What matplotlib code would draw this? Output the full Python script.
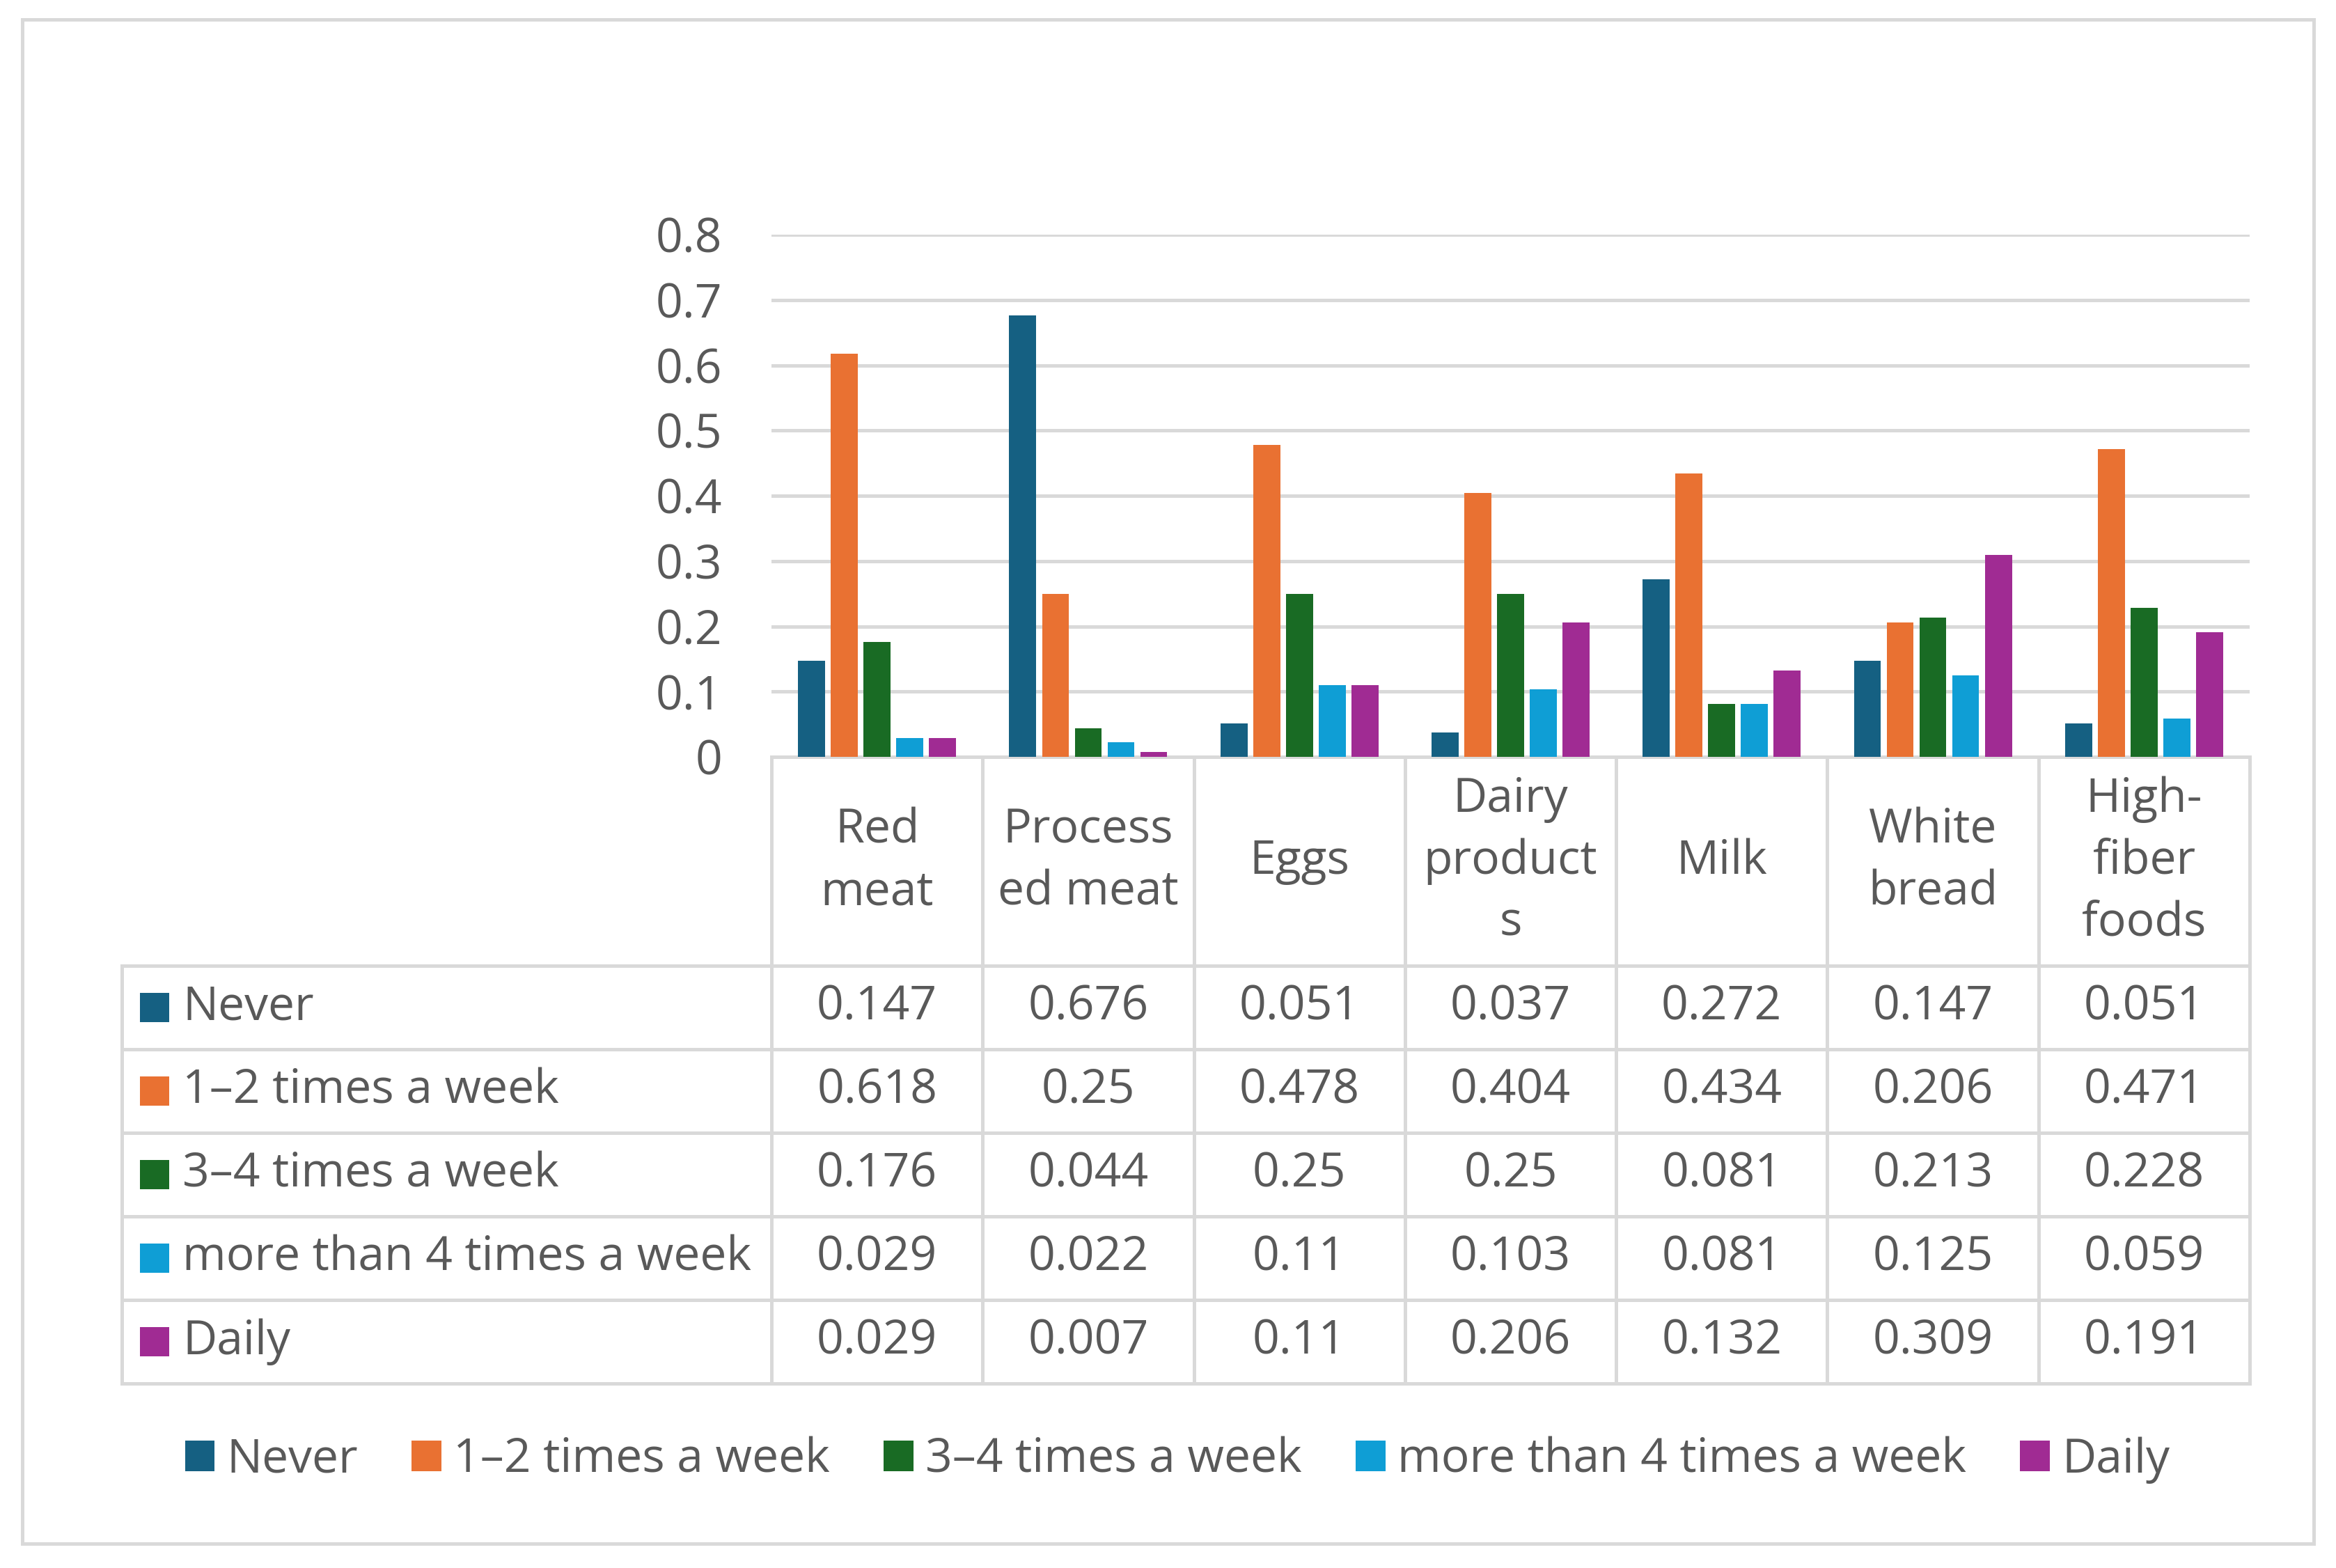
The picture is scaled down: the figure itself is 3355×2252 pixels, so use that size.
import matplotlib
matplotlib.use("Agg")
import matplotlib.pyplot as plt
from matplotlib.patches import Rectangle
import numpy as np

plt.rcParams['font.family'] = ['Open Sans', 'DejaVu Sans']

categories = ["Red\nmeat", "Process\ned meat", "Eggs", "Dairy\nproduct\ns",
              "Milk", "White\nbread", "High-\nfiber\nfoods"]
series_names = ["Never", "1\u20132 times a week", "3\u20134 times a week",
                "more than 4 times a week", "Daily"]
never = [0.147, 0.676, 0.051, 0.037, 0.272, 0.147, 0.051]
once_twice = [0.618, 0.25, 0.478, 0.404, 0.434, 0.206, 0.471]
three_four = [0.176, 0.044, 0.25, 0.25, 0.081, 0.213, 0.228]
more_four = [0.029, 0.022, 0.11, 0.103, 0.081, 0.125, 0.059]
daily = [0.029, 0.007, 0.11, 0.206, 0.132, 0.309, 0.191]
series = [never, once_twice, three_four, more_four, daily]
colors = ["#156082", "#E97132", "#196B24", "#0F9ED5", "#A02B93"]
yticks = [0, 0.1, 0.2, 0.3, 0.4, 0.5, 0.6, 0.7, 0.8]

W, H = 3355, 2252
DPI = 300
TXT = "#595959"
GRID = "#D9D9D9"
FS = 16.3
LW = 1.2

fig = plt.figure(figsize=(W / DPI, H / DPI), dpi=DPI)

# pixel layout
px_left, px_right = 1108, 3231
px_top, px_bottom = 337, 1087
tab_left = 175
row_h = 120
hdr_bottom = 1387
n_cat = len(categories)
n_ser = len(series)

# overlay axes in pixel coords for border and table
ov = fig.add_axes([0, 0, 1, 1])
ov.set_xlim(0, W)
ov.set_ylim(H, 0)
ov.axis("off")
ov.add_patch(Rectangle((32, 28), 3323 - 32, 2217 - 28, fill=False,
                       edgecolor=GRID, lw=LW))

ax = fig.add_axes([px_left / W, 1 - px_bottom / H,
                   (px_right - px_left) / W, (px_bottom - px_top) / H])
ax.set_xlim(-0.5, n_cat - 0.5)
ax.set_ylim(0, 0.8)

step = 0.155
width = 0.128
x = np.arange(n_cat)
for j, (vals, c, name) in enumerate(zip(series, colors, series_names)):
    ax.bar(x + (j - (n_ser - 1) / 2) * step, vals, width=width, color=c,
           label=name, zorder=3)

ax.set_yticks(yticks)
ax.set_yticklabels([f"{t:g}" for t in yticks], fontsize=FS, color=TXT)
ax.tick_params(axis="y", length=0, pad=17)
ax.set_xticks([])
ax.grid(axis="y", color=GRID, lw=LW, zorder=0)
for s in ["top", "right", "left", "bottom"]:
    ax.spines[s].set_visible(False)

# data table
cat_w = (px_right - px_left) / n_cat
table_bottom = hdr_bottom + row_h * n_ser
ov.plot([px_left, px_right], [px_bottom, px_bottom], color=GRID, lw=LW)
for i in range(n_cat + 1):
    xv = px_left + i * cat_w
    ov.plot([xv, xv], [px_bottom, table_bottom], color=GRID, lw=LW)
ov.plot([tab_left, tab_left], [hdr_bottom, table_bottom], color=GRID, lw=LW)
for k in range(n_ser + 1):
    yv = hdr_bottom + k * row_h
    ov.plot([tab_left, px_right], [yv, yv], color=GRID, lw=LW)

for i, cat in enumerate(categories):
    ov.text(px_left + (i + 0.5) * cat_w, (px_bottom + hdr_bottom) / 2, cat,
            ha="center", va="center", fontsize=FS, color=TXT,
            linespacing=1.42, multialignment="center")

for k, (vals, c, name) in enumerate(zip(series, colors, series_names)):
    yc = hdr_bottom + (k + 0.5) * row_h
    ov.add_patch(Rectangle((201, yc - 21), 42, 42, color=c, lw=0))
    ov.text(262, yc, name, ha="left", va="center", fontsize=FS, color=TXT)
    for i, v in enumerate(vals):
        ov.text(px_left + (i + 0.5) * cat_w, yc, f"{v:g}", ha="center",
                va="center", fontsize=FS, color=TXT)

leg = fig.legend(loc="center", bbox_to_anchor=(0.504, 1 - 2097 / H), ncol=5,
                 frameon=False, fontsize=FS, handlelength=0.63,
                 handleheight=0.63, handletextpad=0.25, columnspacing=1.14,
                 labelcolor=TXT)

fig.savefig("out.png", dpi=DPI, facecolor="white")
